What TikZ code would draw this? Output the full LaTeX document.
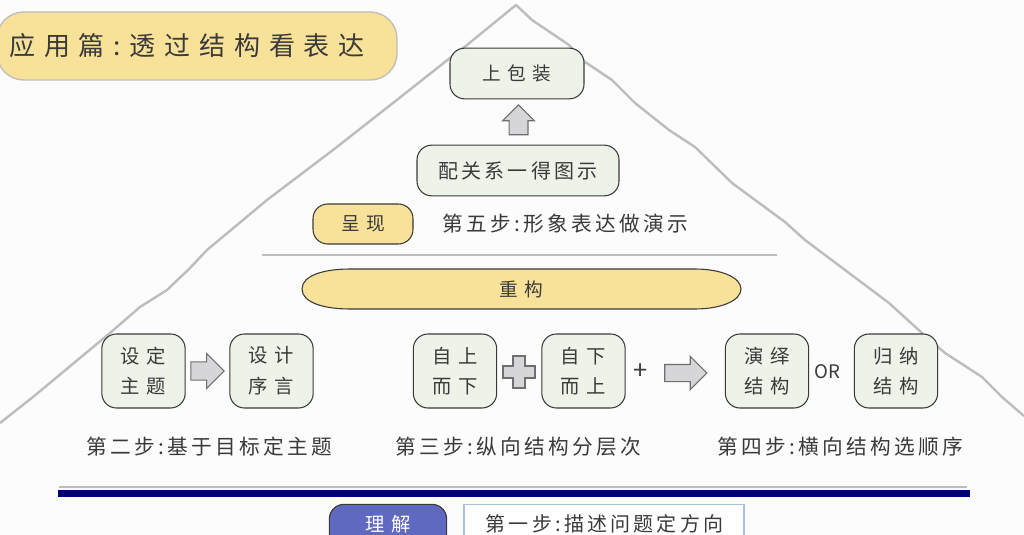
\documentclass[tikz,border=0pt]{standalone}
\usepackage{fontspec}
\usetikzlibrary{shapes.arrows}
\newfontfamily\cjkplain{Noto Sans CJK SC}
\newfontfamily\cjk[LetterSpace=16]{Noto Sans CJK SC}
\newfontfamily\cjkwide[LetterSpace=34]{Noto Sans CJK SC}
\definecolor{boxgreen}{HTML}{EEF3EA}
\definecolor{softyellow}{HTML}{F8E199}
\definecolor{inkgray}{HTML}{3A3A3A}
\definecolor{ridgegray}{HTML}{BDBDBD}
\definecolor{paper}{HTML}{FCFCFC}
\definecolor{arrowgray}{HTML}{D6D6D8}
\definecolor{arrowline}{HTML}{6E6E6E}
\definecolor{darknavy}{HTML}{00007F}
\definecolor{softblue}{HTML}{5F69C0}
\definecolor{paleblue}{HTML}{A9C1D9}
\tikzset{
  stepbox/.style={draw=inkgray, line width=0.8pt, fill=boxgreen, rounded corners=11pt,
    text=inkgray, font=\cjkwide\fontsize{14.5}{23}\selectfont, align=center,
    minimum width=62.5pt, minimum height=55.5pt, inner sep=0pt},
  widebox/.style={stepbox, font=\cjk\fontsize{15}{23}\selectfont, minimum height=38pt},
  stagebox/.style={draw=inkgray, line width=0.8pt, fill=softyellow, rounded corners=11pt,
    text=inkgray, font=\cjkwide\fontsize{14}{23}\selectfont, minimum height=30pt, inner sep=0pt},
  stagetext/.style={text=inkgray, font=\cjkwide\fontsize{14}{23}\selectfont, inner sep=0pt},
  steplabel/.style={text=inkgray, font=\cjk\fontsize{15.5}{18}\selectfont, inner sep=0pt},
  smalltext/.style={text=inkgray, font=\cjkplain\fontsize{14}{15}\selectfont, inner sep=0pt},
  blockarrow/.style={draw=arrowline, line width=0.8pt, fill=arrowgray, single arrow, inner xsep=0pt},
}
\begin{document}
\begin{tikzpicture}[x=0.75pt, y=-0.75pt]
\useasboundingbox (0,0) rectangle (1024,535);
\clip (0,0) rectangle (1024,535);
\fill[paper] (0,0) rectangle (1024,535);

\draw[ridgegray, line width=1.8pt, line join=round]
  (0,423) -- (33,397) -- (110,333) -- (140,307) -- (167,290) -- (190,268)
  -- (207,250) -- (267,200) -- (333,150) -- (393,103) -- (450,58) -- (467,45)
  -- (516,5) -- (532,20) -- (569,45) -- (585,62) -- (612,80) -- (635,103)
  -- (669,130) -- (695,147) -- (732,183) -- (785,222) -- (805,240) -- (845,270)
  -- (889,303) -- (922,333) -- (945,353) -- (982,377) -- (1002,397) -- (1024,416);

\node[draw=ridgegray, line width=1pt, fill=softyellow, rounded corners=20pt, minimum width=300pt,
  minimum height=51pt, inner sep=0pt] (title) at (197,46) {};
\node[text=inkgray, font=\cjkwide\fontsize{19.5}{24}\selectfont, inner sep=0pt] (titletext) at (187,46) {应用篇:透过结构看表达};

\node[widebox, font=\cjkwide\fontsize{14}{23}\selectfont, minimum width=100.5pt] (wrap) at (517,73.5) {上包装};
\node[widebox, minimum width=151.5pt] (relation) at (518,170.5) {配关系一得图示};
\node[blockarrow, rotate=90, minimum height=22.5pt, minimum width=23pt, inner ysep=6.7pt, single arrow head extend=4.9pt] (uparrow) at (518.5,124.5) {};

\node[stagebox, minimum width=75pt] (present) at (363,224) {呈现};
\node[steplabel] (stepfive) at (565,224) {第五步:形象表达做演示};

\coordinate (sepleft) at (262,255);
\coordinate (sepright) at (777,255);
\draw[ridgegray, line width=1pt] (sepleft) -- (sepright);

\draw[draw=inkgray, line width=0.8pt, fill=softyellow]
  (302,289) .. controls (302,275) and (325,269) .. (350,269) -- (695,269)
  .. controls (720,269) and (741,277) .. (741,289)
  .. controls (741,301) and (720,309) .. (695,309) -- (350,309)
  .. controls (325,309) and (302,303) .. (302,289) -- cycle;
\node[stagetext] (rebuild) at (521.5,289) {重构};

\node[stepbox] (topic) at (143.5,371) {设定\\主题};
\node[stepbox] (preface) at (271.5,371) {设计\\序言};
\node[blockarrow, minimum height=25pt, minimum width=25.5pt, inner ysep=6.4pt, single arrow head extend=6.4pt] (arrowone) at (203,371) {};

\node[stepbox] (topdown) at (455,371) {自上\\而下};
\coordinate (plus) at (519,372);
\draw[draw=arrowline, line width=0.8pt, fill=arrowgray] (plus) ++(-6,-16) -- ++(12,0) -- ++(0,10) -- ++(10,0)
  -- ++(0,12) -- ++(-10,0) -- ++(0,10) -- ++(-12,0) -- ++(0,-10) -- ++(-10,0) -- ++(0,-12) -- ++(10,0) -- cycle;
\node[stepbox] (bottomup) at (583.5,371) {自下\\而上};
\node[smalltext, font=\cjkplain\fontsize{19}{20}\selectfont] (plustext) at (641,372) {+};
\node[blockarrow, minimum height=31.5pt, minimum width=24pt, inner ysep=6pt, single arrow head extend=6pt] (arrowtwo) at (681.5,373) {};

\node[stepbox] (deduce) at (767,371) {演绎\\结构};
\node[smalltext] (ortext) at (827,372) {OR};
\node[stepbox] (induce) at (896,371) {归纳\\结构};

\node[steplabel] (steptwo) at (209,447) {第二步:基于目标定主题};
\node[steplabel] (stepthree) at (518.5,447) {第三步:纵向结构分层次};
\node[steplabel] (stepfour) at (840.5,447) {第四步:横向结构选顺序};

\coordinate (ruleleft) at (59,487);
\coordinate (ruleright) at (967,487);
\coordinate (navyleft) at (58,493.5);
\coordinate (navyright) at (970,493.5);
\draw[ridgegray, line width=1pt] (ruleleft) -- (ruleright);
\draw[darknavy, line width=5pt] (navyleft) -- (navyright);

\node[draw=inkgray, line width=0.8pt, fill=softblue, rounded corners=11pt, text=white,
  minimum width=88pt, minimum height=34pt, inner sep=0pt] (understand) at (388,527) {};
\node[text=white, font=\cjkwide\fontsize{14.5}{18}\selectfont, inner sep=0pt] (understandtext) at (388.5,524) {理解};
\node[draw=paleblue, line width=1pt, fill=white, minimum width=210pt, minimum height=34pt, inner sep=0pt] (stepone) at (604,527) {};
\node[steplabel, font=\cjk\fontsize{15}{18}\selectfont] (steponetext) at (604.5,524) {第一步:描述问题定方向};
\end{tikzpicture}
\end{document}
